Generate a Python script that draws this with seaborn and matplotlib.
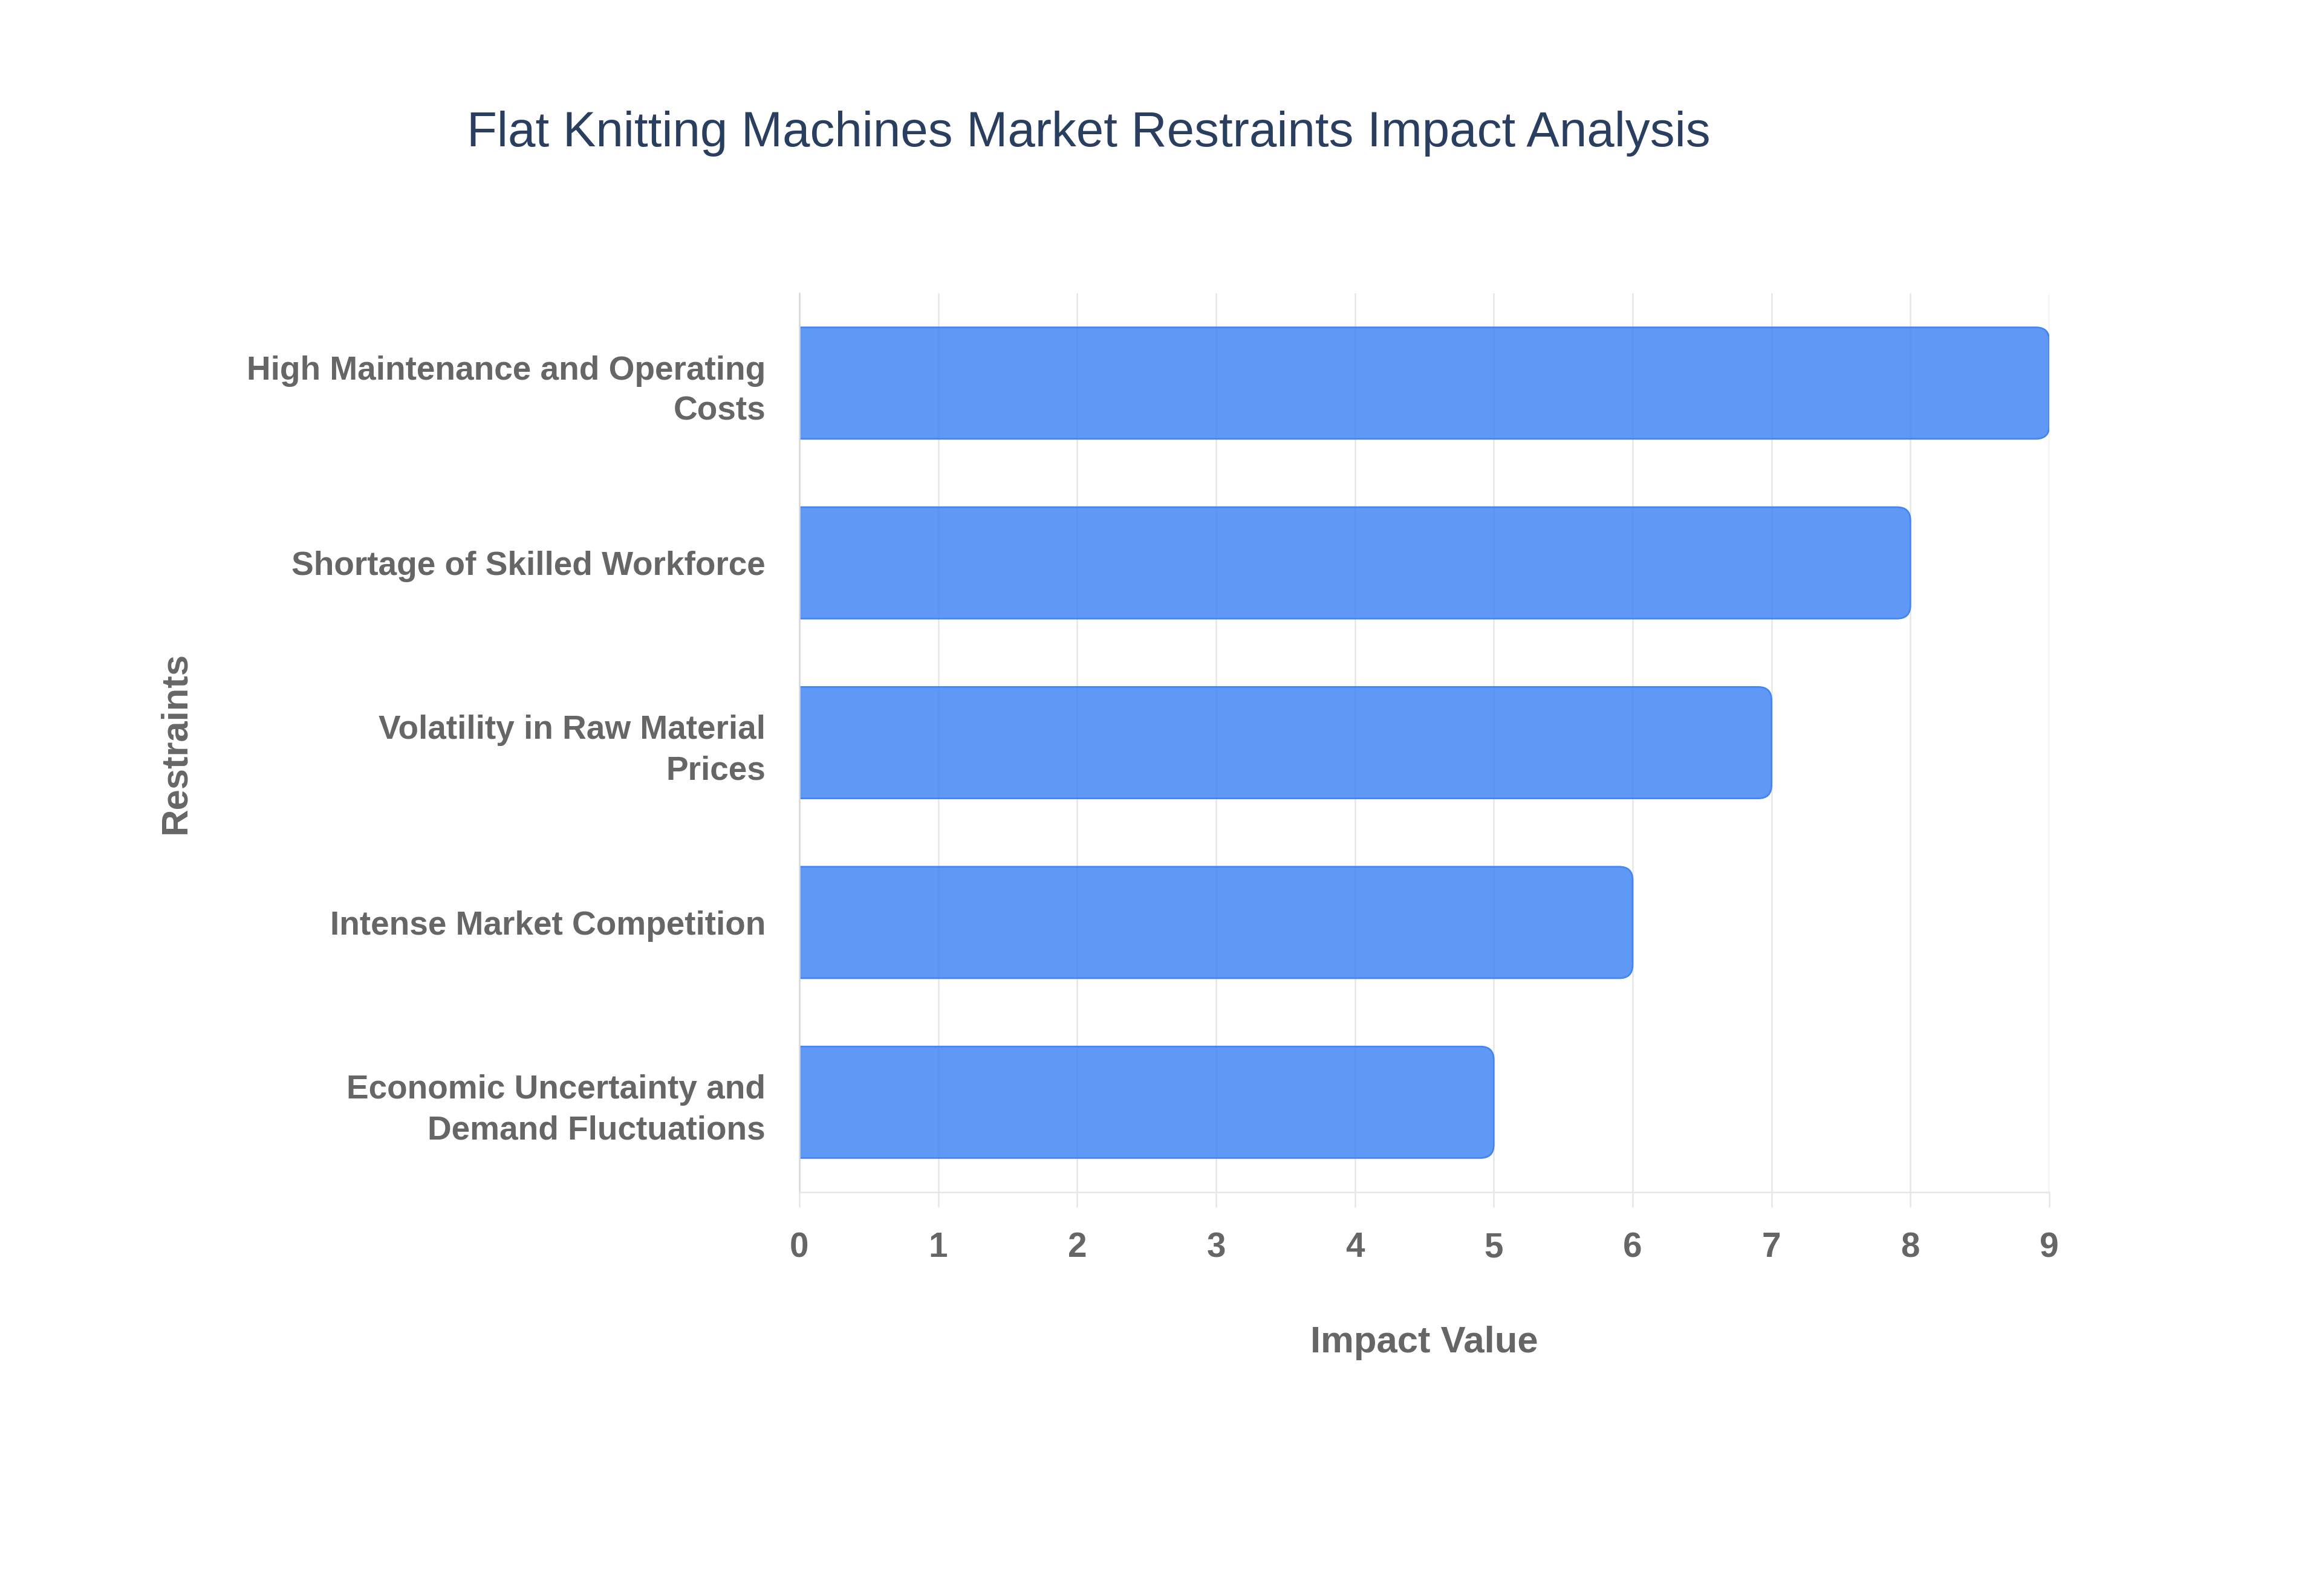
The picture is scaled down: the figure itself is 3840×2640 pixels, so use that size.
import matplotlib
matplotlib.use("Agg")
import matplotlib.pyplot as plt
import seaborn as sns
import pandas as pd
from matplotlib.patches import FancyBboxPatch

# ---- data ----
restraints = [
    "High Maintenance and Operating\nCosts",
    "Shortage of Skilled Workforce",
    "Volatility in Raw Material\nPrices",
    "Intense Market Competition",
    "Economic Uncertainty and\nDemand Fluctuations",
]
impact_values = [9, 8, 7, 6, 5]
x_ticks = [0, 1, 2, 3, 4, 5, 6, 7, 8, 9]
title_text = "Flat Knitting Machines Market Restraints Impact Analysis"
x_label = "Impact Value"
y_label = "Restraints"

# ---- style ----
sns.set_theme(style="white")
plt.rcParams["font.family"] = ["Liberation Sans", "DejaVu Sans"]

W, H = 3840, 2640
DPI = 240
fig = plt.figure(figsize=(W / DPI, H / DPI), dpi=DPI)
fig.patch.set_facecolor("white")

ax_left, ax_right, ax_top, ax_bottom = 1322, 3389, 485, 1972
ax = fig.add_axes([ax_left / W, 1 - ax_bottom / H,
                   (ax_right - ax_left) / W, (ax_bottom - ax_top) / H])

df = pd.DataFrame({"Restraint": restraints, "Impact": impact_values})
base_rgb = (66 / 255, 133 / 255, 244 / 255)
sns.barplot(data=df, x="Impact", y="Restraint", orient="h", color=base_rgb,
            saturation=1, width=0.62, ax=ax)

ax.set_xlim(0, 9)
ax.set_ylim(4.5, -0.5)
ax.set_xticks(x_ticks)
ax.set_xticklabels([str(t) for t in x_ticks])

grid_c = "#e6e6e6"
ax.set_axisbelow(True)
ax.xaxis.grid(True, color=grid_c, linewidth=0.75)
ax.yaxis.grid(False)

for s in ["top", "right"]:
    ax.spines[s].set_visible(False)
ax.spines["bottom"].set_color(grid_c)
ax.spines["bottom"].set_linewidth(0.75)
ax.spines["left"].set_color("#d8d8d8")
ax.spines["left"].set_linewidth(0.75)

ax.tick_params(axis="x", bottom=True, length=7.5, width=0.75, color=grid_c,
               direction="out", pad=12, labelsize=17, labelcolor="#666666")
ax.tick_params(axis="y", left=False, length=0, pad=16.8, labelsize=16.5,
               labelcolor="#666666")
for lbl in ax.get_xticklabels():
    lbl.set_fontweight("bold")
for lbl in ax.get_yticklabels():
    lbl.set_fontweight("bold")
    lbl.set_linespacing(1.38)

# ---- rounded right corners on bars ----
p0 = ax.transData.transform((0, 0))
px_x = ax.transData.transform((1, 0))[0] - p0[0]
px_y = abs(ax.transData.transform((0, 1))[1] - p0[1])
R = 22.0
r = R / px_x
ma = px_x / px_y
for p in list(ax.patches):
    x0, y0 = p.get_x(), p.get_y()
    w, h = p.get_width(), p.get_height()
    p.remove()
    nb = FancyBboxPatch((x0 - r, y0), w + r, h,
                        boxstyle=f"round,pad=0,rounding_size={r}",
                        mutation_aspect=ma,
                        facecolor=base_rgb + (0.84,),
                        edgecolor=base_rgb + (1.0,),
                        linewidth=0.8, zorder=2, clip_on=True)
    ax.add_patch(nb)

# ---- labels ----
ax.set_xlabel(x_label, fontsize=18.5, fontweight="bold", color="#666666")
ax.xaxis.set_label_coords(0.5, -(2222 - ax_bottom) / (ax_bottom - ax_top))
ax.xaxis.label.set_va("center")

ax.set_ylabel(y_label, fontsize=18.5, fontweight="bold", color="#666666")
ax.yaxis.set_label_coords((291 - ax_left) / (ax_right - ax_left), 0.5)
ax.yaxis.label.set_va("center")
ax.yaxis.label.set_ha("center")

fig.text(1800 / W, 1 - 242 / H, title_text, ha="center", va="baseline",
         fontsize=24.5, color="#2a3f5f")

fig.savefig("out.png", dpi=DPI)
